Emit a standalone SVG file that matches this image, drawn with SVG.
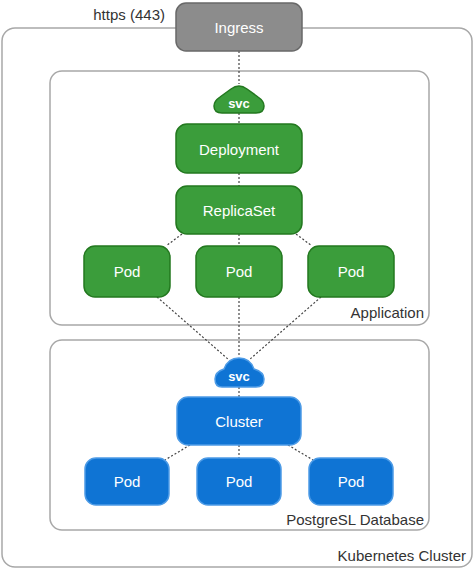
<svg xmlns="http://www.w3.org/2000/svg" width="474" height="569" viewBox="0 0 474 569">
<style>
text{font-family:"Liberation Sans",Arial,sans-serif;font-size:15px}
.box{fill:#fff;stroke:#a8a8a8;stroke-width:1.5}
.lbl{fill:#333;text-anchor:end}
.nt{fill:#fff;text-anchor:middle;dominant-baseline:central}
.g{fill:#3b9d3b;stroke:#23781f;stroke-width:1.5}
.b{fill:#0f74d4;stroke:#4d9be6;stroke-width:1.5}
.gr{fill:#8c8c8c;stroke:#686868;stroke-width:1.5}
.c{stroke:#444;stroke-width:1.2;stroke-dasharray:2 2;fill:none}
</style>
<rect width="474" height="569" fill="#fff"/>
<g id="k8s"><rect class="box" x="2" y="28" width="470" height="539" rx="13"/><text class="lbl" x="466" y="561">Kubernetes Cluster</text></g>
<g id="app"><rect class="box" x="50" y="71" width="379" height="254" rx="12"/><text class="lbl" x="424" y="318">Application</text></g>
<g id="db"><rect class="box" x="50" y="340" width="379" height="190" rx="12"/><text class="lbl" x="424" y="525">PostgreSL Database</text></g>
<text x="165" y="20" class="lbl">https (443)</text>
<g id="connectors">
<path class="c" d="M239 51V84M239 113V124M239 173V186M182 234L166 246M239 234V246M296 234L312 246M157 297L229 360M239 297V357M321 297L249 360M239 387V397M190 445L165 460M239 445V458M288 445L313 460"/>
</g>
<g id="ingress"><rect class="gr" x="176" y="3" width="126" height="48" rx="10"/><text class="nt" x="239" y="27">Ingress</text></g>
<g id="svc1"><path class="g" d="M222 113Q214 113 214 106Q214 101 220 97L231 89Q239 83 247 89L258 97Q264 101 264 106Q264 113 256 113Z"/><text class="nt" x="239" y="103" style="font-size:13px;font-weight:bold">svc</text></g>
<g id="deployment"><rect class="g" x="176" y="124" width="126" height="49" rx="11"/><text class="nt" x="239" y="149">Deployment</text></g>
<g id="replicaset"><rect class="g" x="176" y="186" width="126" height="48" rx="11"/><text class="nt" x="239" y="210">ReplicaSet</text></g>
<g id="pod1"><rect class="g" x="84" y="246" width="86" height="51" rx="11"/><text class="nt" x="127" y="271">Pod</text></g>
<g id="pod2"><rect class="g" x="196" y="246" width="86" height="51" rx="11"/><text class="nt" x="239" y="271">Pod</text></g>
<g id="pod3"><rect class="g" x="308" y="246" width="86" height="51" rx="11"/><text class="nt" x="351" y="271">Pod</text></g>
<g id="svc2"><path class="b" d="M222 387Q215 387 215 379Q215 372 224 369Q228 358 239 358Q250 358 254 369Q264 372 264 379Q264 387 256 387Z"/><text class="nt" x="239" y="376" style="font-size:13px;font-weight:bold">svc</text></g>
<g id="cluster"><rect class="b" x="177" y="397" width="124" height="48" rx="11"/><text class="nt" x="239" y="421">Cluster</text></g>
<g id="dbpod1"><rect class="b" x="85" y="458" width="84" height="47" rx="11"/><text class="nt" x="127" y="481">Pod</text></g>
<g id="dbpod2"><rect class="b" x="197" y="458" width="84" height="47" rx="11"/><text class="nt" x="239" y="481">Pod</text></g>
<g id="dbpod3"><rect class="b" x="309" y="458" width="84" height="47" rx="11"/><text class="nt" x="351" y="481">Pod</text></g>
</svg>
